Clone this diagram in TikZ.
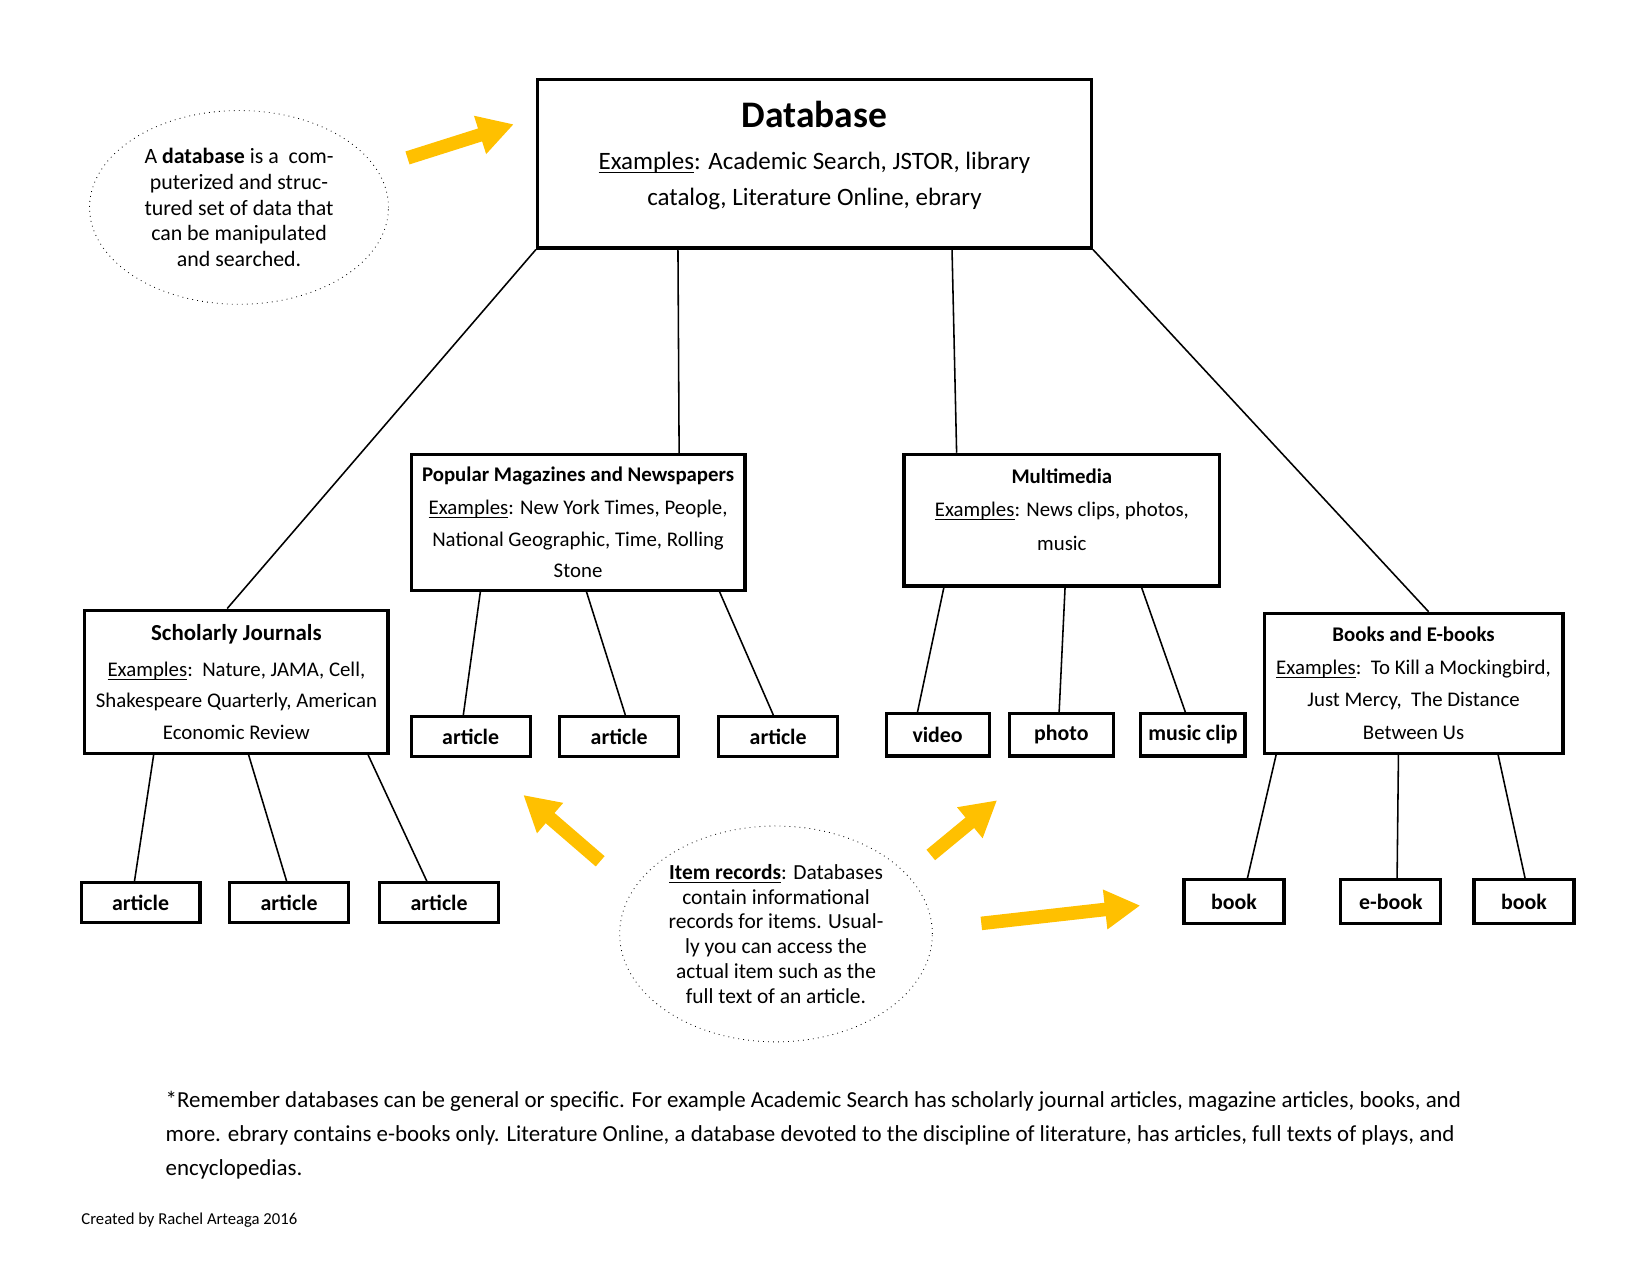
\documentclass[tikz,border=0pt]{standalone}
\usepackage{fontspec}
\setmainfont{Carlito}
\usetikzlibrary{arrows.meta, positioning, calc, shapes.geometric}
\definecolor{gold}{HTML}{FFC000}

\newcommand{\undl}[1]{\underline{\smash{#1}}}

\begin{document}
\begin{tikzpicture}[
        x=0.5054pt, y=-0.5054pt,
        box/.style={draw, line width=1.5pt, align=center, inner sep=0pt},
        catbox/.style={box, font=\fontsize{10}{15}\selectfont},
        leaf/.style={box, font=\fontsize{10.5}{12}\selectfont\bfseries, minimum height=19.2pt},
        note/.style={draw, dotted, ellipse, align=center, inner sep=0pt},
        link/.style={line width=0.75pt},
        hint/.style={-{Triangle[width=18pt, length=17pt]}, line width=6.5pt, draw=gold}
    ]
    \useasboundingbox (0pt,0pt) rectangle (792pt,-612pt);

    % Main box
    \node[box, minimum width=265.9pt, minimum height=80.9pt, font=\fontsize{12}{17.3}\selectfont] (db) at (773.5,155.5)
        {{\fontsize{18}{22}\selectfont\bfseries Database}\\[3pt]
         \undl{Examples}: Academic Search, JSTOR, library\\ catalog, Literature Online, ebrary\rule[-10pt]{0pt}{10pt}};

    % Notes
    \node[note, minimum width=143.5pt, minimum height=93pt, font=\fontsize{10.5}{12.4}\selectfont] (dbnote) at (227,197)
        {A \textbf{database} is a\ \ com-\\ puterized and struc-\\ tured set of data that\\ can be manipulated\\ and searched.};
    \node[note, minimum width=150.1pt, minimum height=103.6pt, font=\fontsize{10.3}{11.9}\selectfont] (itemnote) at (737,887)
        {\undl{\textbf{Item records}}: Databases\\ contain informational\\ records for items. Usual-\\ ly you can access the\\ actual item such as the\\ full text of an article.};

    % Categories
    \node[catbox, minimum width=145.6pt, minimum height=68.8pt] (sj) at (224.5,647.5)
        {{\fontsize{11}{15}\selectfont\bfseries Scholarly Journals}\\[2.5pt]
         \undl{Examples}:\ \ Nature, JAMA, Cell,\\ Shakespeare Quarterly, American\\ Economic Review};
    \node[catbox, minimum width=160.2pt, minimum height=65.2pt] (pm) at (549,496)
        {{\bfseries Popular Magazines and Newspapers}\\[1pt]
         \undl{Examples}: New York Times, People,\\ National Geographic, Time, Rolling\\ Stone};
    \node[catbox, minimum width=151.6pt, minimum height=63.2pt] (mm) at (1008.5,494)
        {{\bfseries Multimedia}\\[1pt]
         \undl{Examples}: News clips, photos,\\[1.5pt] music\rule[-10pt]{0pt}{10pt}};
    \node[catbox, minimum width=143.5pt, minimum height=67.2pt] (be) at (1342.5,649)
        {{\bfseries Books and E-books}\\[1pt]
         \undl{Examples}:\ \ To Kill a Mockingbird,\\ Just Mercy,\ \ The Distance\\[1pt] Between Us};

    % Items
    \node[leaf, minimum width=57.1pt] (sa1) at (133.5,857.5) {article};
    \node[leaf, minimum width=57.1pt, right=12.7pt of sa1] (sa2) {article};
    \node[leaf, minimum width=57.1pt, right=13.4pt of sa2] (sa3) {article};
    \node[leaf, minimum width=57.1pt] (pa1) at (447,699.5) {article};
    \node[leaf, minimum width=57.1pt, right=12.7pt of pa1] (pa2) {article};
    \node[leaf, minimum width=57.1pt, right=17.7pt of pa2] (pa3) {article};
    \node[leaf, minimum width=49.5pt, minimum height=20.2pt] (video) at (890.5,698) {video};
    \node[leaf, minimum width=50pt, minimum height=20.2pt, right=8.1pt of video] (photo) {photo};
    \node[leaf, minimum width=50pt, minimum height=20.2pt, right=11.7pt of photo] (clip) {music clip};
    \node[leaf, minimum width=48pt, minimum height=21.2pt] (book1) at (1172,856.5) {book};
    \node[leaf, minimum width=48pt, minimum height=21.2pt, right=25.8pt of book1] (ebook) {e-book};
    \node[leaf, minimum width=48pt, minimum height=21.2pt, right=14.4pt of ebook] (book2) {book};

    % Footer
    \node[anchor=north west, align=left, inner sep=0pt, font=\fontsize{11}{16.2}\selectfont] (remark) at (157,1036)
        {*Remember databases can be general or specific. For example Academic Search has scholarly journal articles, magazine articles, books, and\\
         more. ebrary contains e-books only. Literature Online, a database devoted to the discipline of literature, has articles, full texts of plays, and\\
         encyclopedias.};
    \node[anchor=west, inner sep=0pt, font=\fontsize{8}{10}\selectfont] (credit) at (77,1159) {Created by Rachel Arteaga 2016};

    % Connections
    \draw[link] (db.south west) -- ($(sj.north west)!.47!(sj.north east)$);
    \draw[link] ($(db.south west)!.255!(db.south east)$) -- ($(pm.north west)!.80!(pm.north east)$);
    \draw[link] ($(db.south west)!.747!(db.south east)$) -- ($(mm.north west)!.17!(mm.north east)$);
    \draw[link] (db.south east) -- ($(be.north west)!.55!(be.north east)$);

    \draw[link] ($(sj.south west)!.23!(sj.south east)$) -- ($(sa1.north west)!.45!(sa1.north east)$);
    \draw[link] ($(sj.south west)!.54!(sj.south east)$) -- ($(sa2.north west)!.48!(sa2.north east)$);
    \draw[link] ($(sj.south west)!.93!(sj.south east)$) -- ($(sa3.north west)!.40!(sa3.north east)$);
    \draw[link] ($(pm.south west)!.21!(pm.south east)$) -- ($(pa1.north west)!.44!(pa1.north east)$);
    \draw[link] ($(pm.south west)!.525!(pm.south east)$) -- ($(pa2.north west)!.55!(pa2.north east)$);
    \draw[link] ($(pm.south west)!.92!(pm.south east)$) -- ($(pa3.north west)!.46!(pa3.north east)$);
    \draw[link] ($(mm.south west)!.13!(mm.south east)$) -- ($(video.north west)!.31!(video.north east)$);
    \draw[link] ($(mm.south west)!.51!(mm.south east)$) -- ($(photo.north west)!.48!(photo.north east)$);
    \draw[link] ($(mm.south west)!.75!(mm.south east)$) -- ($(clip.north west)!.43!(clip.north east)$);
    \draw[link] ($(be.south west)!.045!(be.south east)$) -- ($(book1.north west)!.63!(book1.north east)$);
    \draw[link] ($(be.south west)!.45!(be.south east)$) -- ($(ebook.north west)!.56!(ebook.north east)$);
    \draw[link] ($(be.south west)!.78!(be.south east)$) -- ($(book2.north west)!.51!(book2.north east)$);

    % Yellow pointers
    \coordinate (t1) at (387,150);  \coordinate (h1) at (488,118);
    \coordinate (t2) at (570,818);  \coordinate (h2) at (497,755);
    \coordinate (t3) at (884,812);  \coordinate (h3) at (947,760);
    \coordinate (t4) at (932,877);  \coordinate (h4) at (1083,860);
    \draw[hint] (t1) -- (h1);
    \draw[hint] (t2) -- (h2);
    \draw[hint] (t3) -- (h3);
    \draw[hint] (t4) -- (h4);

\end{tikzpicture}
\end{document}
